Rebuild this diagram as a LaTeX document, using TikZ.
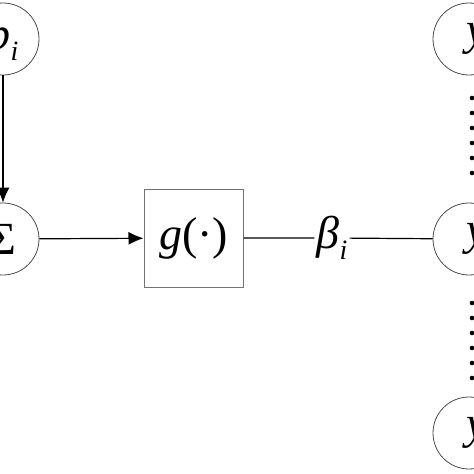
\documentclass[tikz,border=0pt]{standalone}
\usepackage{fontspec}
\setmainfont{Liberation Serif}
\usetikzlibrary{arrows.meta}
\tikzset{
  var/.style={circle,draw=black!70,line width=0.8pt,minimum size=72pt,inner sep=0pt,font=\fontsize{46}{48}\selectfont},
  fbox/.style={draw=black!55,line width=1pt,minimum width=99pt,minimum height=98pt,inner sep=0pt,font=\fontsize{46}{48}\selectfont},
  conn/.style={line width=1.2pt},
  arr/.style={conn,-{Latex[length=15pt,width=13pt]}}
}
\begin{document}
\begin{tikzpicture}[x=1pt,y=-1pt]
\useasboundingbox (0,0) rectangle (474,474);
\clip (0,0) rectangle (474,474);
% inputs on the left
\node[var] (b) at (3,39) {\itshape b\raisebox{-0.25em}{\fontsize{28}{30}\selectfont i}};
\node[var] (sig) at (3,239) {Σ};
\node[fbox] (g) at (193.5,238) {\itshape g\upshape(·)};
\node[inner sep=2pt,font=\fontsize{46}{48}\selectfont] (beta) at (332,238) {\itshape β\raisebox{-0.25em}{\fontsize{28}{30}\selectfont i}};
% outputs on the right
\node[var] (y1) at (469,39) {\hspace*{0.35em}\itshape y};
\node[var] (yi) at (469,239) {\hspace*{0.35em}\itshape y};
\node[var] (yn) at (469,433) {\hspace*{0.35em}\itshape y};
\draw[arr] (b) -- (sig);
\draw[arr] (sig) -- (g);
\draw[conn] (g) -- (beta) -- (yi);
% dotted columns
\foreach \k in {0,...,5} {
  \fill (472,98+15*\k) circle (2.3);
  \fill (472,303+15*\k) circle (2.3);
}
\end{tikzpicture}
\end{document}
